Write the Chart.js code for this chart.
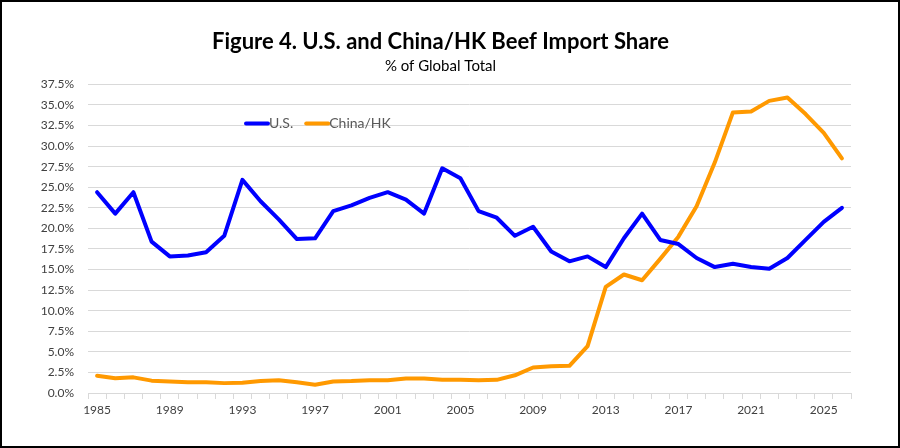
<!DOCTYPE html>
<html>
<head>
<meta charset="utf-8">
<script src="https://cdn.jsdelivr.net/npm/chart.js@4.4.1/dist/chart.umd.min.js"></script>
<style>
html,body{margin:0;padding:0;background:#fff;}
#wrap{width:900px;height:448px;position:relative;}
</style>
</head>
<body>
<div id="wrap"><canvas id="c" width="900" height="448"></canvas></div>
<script>
const years = [];
for (let y = 1985; y <= 2026; y++) years.push(String(y));

const usShare = [24.4,21.8,24.4,18.4,16.6,16.7,17.1,19.1,25.9,23.3,21.1,18.7,18.8,22.1,22.8,23.7,24.4,23.5,21.8,27.3,26.1,22.1,21.3,19.1,20.2,17.2,16.0,16.6,15.3,18.8,21.8,18.6,18.1,16.4,15.3,15.7,15.3,15.1,16.4,18.6,20.8,22.5];
const chinaHkShare = [2.1,1.8,1.9,1.5,1.4,1.3,1.3,1.2,1.25,1.45,1.55,1.3,1.0,1.4,1.45,1.55,1.55,1.75,1.75,1.6,1.6,1.55,1.6,2.15,3.1,3.25,3.3,5.7,12.9,14.4,13.7,16.3,19.0,22.7,28.0,34.1,34.2,35.5,35.9,33.9,31.6,28.5];
const yTicks = [0,2.5,5,7.5,10,12.5,15,17.5,20,22.5,25,27.5,30,32.5,35,37.5];

const FONT = "Lato, 'Open Sans', sans-serif";

const legendPlugin = {
  id: 'insideLegend',
  afterDatasetsDraw(chart) {
    const ctx = chart.ctx;
    const ca = chart.chartArea;
    let x = ca.left + 158;
    const y = ca.top + 39;
    ctx.save();
    ctx.font = "14px " + FONT;
    ctx.textBaseline = 'middle';
    chart.data.datasets.forEach(ds => {
      ctx.strokeStyle = ds.borderColor;
      ctx.lineWidth = 4;
      ctx.lineCap = 'round';
      ctx.beginPath();
      ctx.moveTo(x, y);
      ctx.lineTo(x + 22, y);
      ctx.stroke();
      ctx.fillStyle = '#595959';
      ctx.fillText(ds.label, x + 23, y);
      x += 23 + ctx.measureText(ds.label).width + 13;
    });
    ctx.restore();
  }
};

const borderPlugin = {
  id: 'frame',
  afterDraw(chart) {
    const ctx = chart.ctx;
    ctx.save();
    ctx.strokeStyle = '#000';
    ctx.lineWidth = 2;
    ctx.strokeRect(1, 1, chart.width - 2, chart.height - 2);
    ctx.restore();
  }
};

new Chart(document.getElementById('c'), {
  type: 'line',
  data: {
    labels: years,
    datasets: [
      { label: 'U.S.', data: usShare, borderColor: '#0000FF', backgroundColor: '#0000FF', borderWidth: 4, pointRadius: 0, tension: 0, borderJoinStyle: 'round', borderCapStyle: 'round' },
      { label: 'China/HK', data: chinaHkShare, borderColor: '#FF9900', backgroundColor: '#FF9900', borderWidth: 4, pointRadius: 0, tension: 0, borderJoinStyle: 'round', borderCapStyle: 'round' }
    ]
  },
  options: {
    responsive: false,
    animation: false,
    devicePixelRatio: 1,
    layout: { padding: { left: 30, right: 49, top: 0, bottom: 10 } },
    plugins: {
      legend: { display: false },
      tooltip: { enabled: false },
      title: {
        display: true,
        text: 'Figure 4. U.S. and China/HK Beef Import Share',
        color: '#000',
        font: { family: FONT, size: 22, weight: 'bold', lineHeight: 1.2 },
        padding: { top: 29, bottom: 2 }
      },
      subtitle: {
        display: true,
        text: '% of Global Total',
        color: '#000',
        font: { family: FONT, size: 15, lineHeight: 1.2 },
        padding: { top: 0, bottom: 9 }
      }
    },
    scales: {
      x: {
        type: 'category',
        offset: true,
        grid: { display: true, offset: true, drawOnChartArea: false, drawTicks: true, tickLength: 6, color: '#d9d9d9', lineWidth: 1 },
        border: { display: true, color: '#d9d9d9', width: 1 },
        ticks: {
          autoSkip: false, maxRotation: 0, minRotation: 0, padding: 4,
          color: '#404040', font: { family: FONT, size: 12 },
          callback: function(v, i) { const yr = Number(years[i]); return ((yr - 1985) % 4 === 0) ? years[i] : ''; }
        },
        afterFit(scale) { scale.height = 45; }
      },
      y: {
        min: 0, max: 37.5,
        afterBuildTicks(scale) { scale.ticks = yTicks.map(v => ({ value: v })); },
        grid: { color: '#d9d9d9', lineWidth: 1, drawTicks: false },
        border: { display: false },
        ticks: {
          padding: 14, color: '#404040', font: { family: FONT, size: 12 },
          callback: v => Number(v).toFixed(1) + '%'
        },
        afterFit(scale) { scale.width = 58; }
      }
    }
  },
  plugins: [legendPlugin, borderPlugin]
});
</script>
</body>
</html>
